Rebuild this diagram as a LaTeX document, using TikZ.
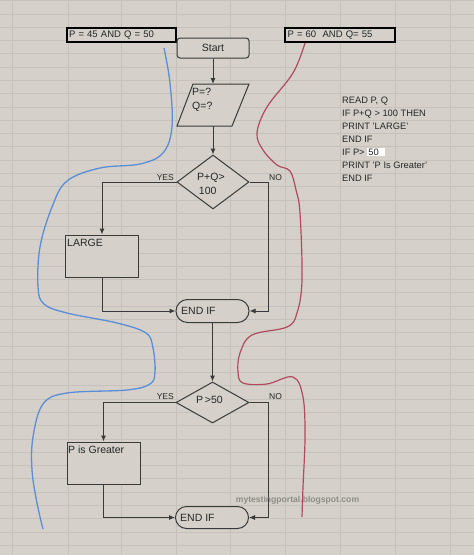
\documentclass[tikz,border=0pt]{standalone}
\usepackage{fontspec}
\setmainfont{Liberation Sans}
\usetikzlibrary{shapes.geometric,arrows.meta}
\definecolor{bg}{HTML}{D5D1CA}
\definecolor{gridc}{HTML}{C6C2BB}
\definecolor{ln}{HTML}{3A3A3A}
\definecolor{tx}{HTML}{262626}
\definecolor{bluec}{HTML}{5A8ED8}
\definecolor{redc}{HTML}{B04A5E}
\definecolor{wm}{HTML}{8E8C88}
\begin{document}
\begin{tikzpicture}[x=1pt,y=-1pt,
  flow/.style={draw=ln, line width=1pt, fill=bg, inner sep=0pt},
  conn/.style={draw=ln, line width=1pt, -{Latex[length=6pt,width=5pt]}},
  condbox/.style={draw=black, line width=1.6pt, fill=bg, minimum height=14pt, inner sep=2pt,
     text width=105pt, align=left, text=tx, font=\fontsize{9.5}{11}\selectfont},
  ftxt/.style={inner sep=0pt, text=tx, font=\fontsize{10.5}{12}\selectfont},
  small/.style={inner sep=0pt, text=tx, font=\fontsize{8.5}{10}\selectfont},
  gridln/.style={draw=gridc, line width=0.8pt}
]
% background and grid
\fill[bg] (0,0) rectangle (474,555);
\useasboundingbox (0,0) rectangle (474,555);
\foreach \gx in {12.5,68.3,121.7,176.7,230,285,340,395,450}
  \draw[gridln] (\gx,0) -- (\gx,555);
\foreach \k in {0,...,41}
  \draw[gridln] (0,0.7+13.28*\k) -- (474,0.7+13.28*\k);

% hand-drawn curves
\draw[bluec, line width=1.3pt] plot[smooth, tension=0.6] coordinates {
  (164,48) (170,83) (172,127) (163,153) (140,164) (100,168) (67,181) (52,207)
  (40,247) (38,287) (44,304) (67,313) (117,323) (146,333) (153,348) (155,372)
  (150,384) (127,390) (67,393) (43,404) (33,437) (32,470) (37,503) (43,529)};
\draw[redc, line width=1.2pt] plot[smooth, tension=0.6] coordinates {
  (305,43) (293,73) (267,107) (257,133) (263,150) (277,165) (290,171) (296,190)
  (300,213) (302,280) (297,313) (287,327) (252,335) (240,353) (238,372)
  (243,383) (267,384) (293,377) (303,397) (305,437) (303,487) (302,517)};

% condition boxes
\node[condbox, minimum width=109pt] (c1) at (121.5,35) {P = 45 AND Q = 50};
\node[condbox, minimum width=110pt] (c2) at (340,35) {P = 60\ \ AND Q= 55};

% flowchart shapes
\node[flow, rounded corners=3pt, minimum width=72pt, minimum height=20pt, ftxt] (start) at (213,48) {Start};
\coordinate (partop) at (213,84);
\coordinate (parbot) at (213,126);
\draw[draw=ln, line width=1pt, fill=bg] (193,84) -- (249,84) -- (232,126) -- (177,126) -- cycle;
\node[ftxt, anchor=west, align=left, font=\fontsize{10.5}{14.5}\selectfont] (partxt) at (192,100) {P=?\\Q=?};

\node[flow, diamond, minimum width=72pt, minimum height=54pt] (d1) at (213,182) {};
\node[ftxt, anchor=west, align=left, font=\fontsize{10.5}{13.5}\selectfont] (d1txt) at (197,184) {P+Q>\\\,100};
\node[small, anchor=east] (yes1) at (174,178) {YES};
\node[small, anchor=west] (no1) at (269,178) {NO};

\node[flow, minimum width=73pt, minimum height=42pt] (large) at (102,256) {};
\node[ftxt, anchor=north west] (largetxt) at (67,239) {LARGE};

\node[flow, rounded corners=11.5pt, minimum width=73pt, minimum height=23pt] (e1) at (212.5,311) {};
\node[ftxt, anchor=west] (e1txt) at (181,311) {END IF};

\node[flow, diamond, minimum width=73pt, minimum height=41pt] (d2) at (212.5,402.5) {};
\node[ftxt] (d2txt) at (209.5,400) {P\,>50};
\node[small, anchor=east] (yes2) at (174,397) {YES};
\node[small, anchor=west] (no2) at (269,397) {NO};

\node[flow, minimum width=73pt, minimum height=42pt] (great) at (103.5,463) {};
\node[ftxt, anchor=north west] (greattxt) at (68,446) {P is Greater};

\node[flow, rounded corners=11pt, minimum width=73pt, minimum height=22pt] (e2) at (212,517.5) {};
\node[ftxt, anchor=west] (e2txt) at (180,517.5) {END IF};

% connectors
\draw[conn] (start.south) -- (partop);
\draw[conn] (parbot) -- (d1.north);
\draw[conn] (d1.west) -| (large.north);
\draw[conn] (d1.east) -- ++(19.3,0) |- (e1.east);
\draw[conn] (large.south) |- (e1.west);
\draw[conn] (e1.south) -- (d2.north);
\draw[conn] (d2.west) -| (great.north);
\draw[conn] (d2.east) -- ++(19.3,0) |- (e2.east);
\draw[conn] (great.south) |- (e2.west);

% pseudo code
\node[anchor=north west, inner sep=0pt, align=left, text=tx, font=\fontsize{9.3}{13}\selectfont] (code) at (342,96.5)
 {READ P, Q\\IF P+Q > 100 THEN\\PRINT 'LARGE'\\END IF\\IF P> {\fboxsep=1.2pt\colorbox{white}{50\hspace{5pt}}}\\PRINT 'P Is Greater'\\END IF};

% watermark
\node[inner sep=0pt, text=wm, font=\fontsize{8.6}{10}\bfseries\selectfont] (wmark) at (297.5,500.5) {mytestingportal.blogspot.com};
\end{tikzpicture}
\end{document}
